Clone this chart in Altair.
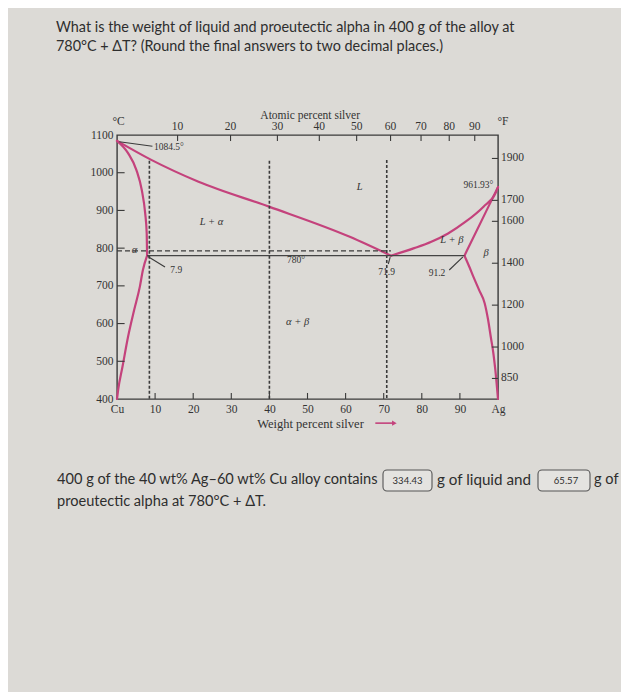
import altair as alt
import pandas as pd

SERIF = "Liberation Serif"
SANS = "Lato"
INK = "#333333"
PINK = "#c4427c"
BG = "#dcdad6"

# ---- phase boundaries (wt% Ag, deg C) ----
liq_cu_wt = [0, 9.0, 21.4, 39.9, 61.1, 71.9]
liq_cu_t = [1084.5, 1034, 976, 910, 830, 780]
liq_ag_wt = [71.9, 78.0, 82.5, 86.9, 91.5, 96.2, 99.3, 100]
liq_ag_t = [780, 800, 817, 839, 870, 910, 945, 961.93]
sol_a_wt = [0, 2.9, 5.1, 6.5, 7.4, 7.8, 7.9]
sol_a_t = [1084.5, 1052, 1007, 954, 892, 839, 780]
solv_a_wt = [0, 0.3, 1.45, 2.9, 4.5, 6.0, 6.8, 7.9]
solv_a_t = [400, 424, 486, 565, 636, 698, 742, 780]
sol_b_wt = [91.2, 95.6, 100]
sol_b_t = [780, 871, 961.93]
solv_b_wt = [91.2, 92.5, 93.5, 95.0, 96.5, 97.4, 98.1, 98.8, 99.3, 100]
solv_b_t = [780, 750, 725, 690, 654, 610, 565, 520, 477, 400]
eutectic_wt = [7.9, 91.2]
eutectic_t = [780, 780]

# dashed construction lines
dash_v_wt = [8.5, 40, 70.8]
dash_v_top = [1032, 1032, 1034]
dash_h_wt = [0, 71.9]
dash_h_t = [793, 793]

# ---- axes ----
temp_c_ticks = [400, 500, 600, 700, 800, 900, 1000, 1100]
wt_ticks = [10, 20, 30, 40, 50, 60, 70, 80, 90]
at_ticks = [10, 20, 30, 40, 50, 60, 70, 80, 90]
at_tick_wt = [15.9, 29.8, 42.1, 53.1, 62.9, 71.8, 79.8, 87.2, 93.9]
temp_f_ticks = [1900, 1700, 1600, 1400, 1200, 1000, 850]
temp_f_as_c = [(f - 32) * 5 / 9 for f in temp_f_ticks]

xscale = alt.Scale(domain=[0, 100], nice=False, zero=False)
yscale = alt.Scale(domain=[400, 1100], nice=False, zero=False)
xaxis = alt.Axis(values=[0] + wt_ticks + [100],
                 labelExpr="datum.value == 0 ? 'Cu' : datum.value == 100 ? 'Ag' : datum.label",
                 title=None, ticks=False, domain=False, grid=False, labelFont=SERIF,
                 labelFontSize=11.5, labelPadding=4, labelColor=INK, labelOverlap=False,
                 labelFlush=False, labelBound=False)
yaxis = alt.Axis(values=temp_c_ticks, format="d", title=None, ticks=False, domain=False, grid=False,
                 labelFont=SERIF, labelFontSize=11.5, labelPadding=4, labelColor=INK,
                 labelOverlap=False, labelFlush=False, labelBound=False)


def X(f="wt"):
    return alt.X(f, type="quantitative", scale=xscale, axis=xaxis)


def Y(f="T"):
    return alt.Y(f, type="quantitative", scale=yscale, axis=yaxis)


curves = {
    "liq_cu": (liq_cu_wt, liq_cu_t),
    "liq_ag": (liq_ag_wt, liq_ag_t),
    "sol_a": (sol_a_wt, sol_a_t),
    "solv_a": (solv_a_wt, solv_a_t),
    "sol_b": (sol_b_wt, sol_b_t),
    "solv_b": (solv_b_wt, solv_b_t),
}
rows = []
for name, (ws, ts) in curves.items():
    for i, (w, t) in enumerate(zip(ws, ts)):
        rows.append({"curve": name, "i": i, "wt": w, "T": t})
lines_df = pd.DataFrame(rows)

phase = alt.Chart(lines_df).mark_line(
    color=PINK, strokeWidth=2.2, interpolate="monotone", strokeCap="round"
).encode(x=X(), y=Y(), detail="curve:N", order="i:Q")

eut_df = pd.DataFrame({"wt": [eutectic_wt[0]], "wt2": [eutectic_wt[1]], "T": [eutectic_t[0]]})
eut = alt.Chart(eut_df).mark_rule(color="#444444", strokeWidth=1.3).encode(
    x=X(), x2="wt2:Q", y=Y())

dv_df = pd.DataFrame({"wt": dash_v_wt, "T": dash_v_top, "T2": [400] * 3})
dash_v = alt.Chart(dv_df).mark_rule(color="#3a3a3a", strokeWidth=1.6, strokeDash=[3, 2]).encode(
    x=X(), y=Y(), y2="T2:Q")
dh_df = pd.DataFrame({"wt": [dash_h_wt[0]], "wt2": [dash_h_wt[1]], "T": [dash_h_t[0]]})
dash_h = alt.Chart(dh_df).mark_rule(color="#3a3a3a", strokeWidth=1.3, strokeDash=[5, 3]).encode(
    x=X(), x2="wt2:Q", y=Y())

# tick marks (inward)
seg = []
for t in temp_c_ticks[1:-1]:
    seg.append({"wt": 0, "wt2": 2.0, "T": t, "T2": t})
for w in wt_ticks:
    seg.append({"wt": w, "wt2": w, "T": 400, "T2": 416})
for w in at_tick_wt:
    seg.append({"wt": w, "wt2": w, "T": 1100, "T2": 1084})
for t in temp_f_as_c:
    seg.append({"wt": 98.4, "wt2": 100, "T": t, "T2": t})
# leader lines
seg.append({"wt": 0.6, "wt2": 9.3, "T": 1082, "T2": 1070})
seg.append({"wt": 8.1, "wt2": 12.6, "T": 778, "T2": 750})
seg.append({"wt": 87.2, "wt2": 90.8, "T": 742, "T2": 777})
seg.append({"wt": 71.7, "wt2": 71.2, "T": 776, "T2": 758})
seg_df = pd.DataFrame(seg)
ticks = alt.Chart(seg_df).mark_rule(color="#3a3a3a", strokeWidth=1.1).encode(
    x=X(), x2="wt2:Q", y=Y(), y2="T2:Q")

# top axis labels (atomic percent)
top_df = pd.DataFrame({"label": [str(a) for a in at_ticks], "wt": at_tick_wt, "T": [1100] * 9})
top_lab = alt.Chart(top_df).mark_text(font=SERIF, fontSize=11.5, color=INK, baseline="bottom", dy=-3).encode(
    x=X(), y=Y(), text="label:N")

# right axis labels (deg F)
f_df = pd.DataFrame({"label": [str(f) for f in temp_f_ticks], "wt": [100] * 7, "T": temp_f_as_c})
f_lab = alt.Chart(f_df).mark_text(font=SERIF, fontSize=11.5, color=INK, align="left", dx=3).encode(
    x=X(), y=Y(), text="label:N")

# unit and axis titles (placed in data space)
units_df = pd.DataFrame({"label": ["°C", "°F", "Atomic percent silver"],
                         "wt": [0.4, 101.3, 50.7],
                         "T": [1135, 1135, 1150]})
units_c = alt.Chart(units_df).mark_text(font=SERIF, fontSize=11.5, color=INK).encode(
    x=X(), y=Y(), text="label:N")
xtitle_df = pd.DataFrame({"label": ["Weight percent silver"], "wt": [36.8], "T": [334]})
units_w = alt.Chart(xtitle_df).mark_text(font=SERIF, fontSize=12.5, color=INK, align="left").encode(
    x=X(), y=Y(), text="label:N")

arrow_df = pd.DataFrame({"wt": [67.8], "wt2": [72.8], "T": [336]})
arrow_line = alt.Chart(arrow_df).mark_rule(color=PINK, strokeWidth=1.6).encode(
    x=X(), x2="wt2:Q", y=Y())
arrow_head = alt.Chart(arrow_df).mark_point(shape="triangle-right", filled=True, color=PINK,
                                            size=28, opacity=1).encode(x=X("wt2"), y=Y())

# region / point labels
plain_df = pd.DataFrame({
    "label": ["1084.5°", "780°", "71.9", "91.2", "7.9"],
    "wt": [9.7, 44.6, 68.6, 81.8, 14.0],
    "T": [1069, 768, 737, 733, 742],
})
plain = alt.Chart(plain_df).mark_text(font=SERIF, fontSize=9.5, color=INK, align="left").encode(
    x=X(), y=Y(), text="label:N")
right_df = pd.DataFrame({"label": ["961.93°"], "wt": [98.8], "T": [968]})
right_lab = alt.Chart(right_df).mark_text(font=SERIF, fontSize=9.5, color=INK, align="right").encode(
    x=X(), y=Y(), text="label:N")
ital_df = pd.DataFrame({
    "label": ["L + α", "L", "L + β", "β", "α + β", "α"],
    "wt": [24.8, 63.7, 87.9, 96.9, 47.4, 4.6],
    "T": [870, 963, 822, 786, 605, 795],
})
ital = alt.Chart(ital_df).mark_text(font=SERIF, fontSize=10.5, fontStyle="italic", color=INK).encode(
    x=X(), y=Y(), text="label:N")

# ---- question text around the figure (page pixels, relative to plot origin) ----
OX, OY = 117, 135


def page_text(txt, px, py, size=14.4, align="left", font=SANS, color="#2e2e2e"):
    return alt.Chart(pd.DataFrame({"t": [txt]})).mark_text(
        font=font, fontSize=size, align=align, baseline="middle", color=color
    ).encode(text="t:N", x=alt.value(px - OX), y=alt.value(py - OY))


def page_box(x1, x2, y1, y2):
    return alt.Chart(pd.DataFrame({"a": [0]})).mark_rect(
        fill="#e4e3e0", stroke="#555555", strokeWidth=1.1, cornerRadius=4
    ).encode(x=alt.value(x1 - OX), x2=alt.value(x2 - OX), y=alt.value(y1 - OY), y2=alt.value(y2 - OY))


q_lines = [
    page_text("What is the weight of liquid and proeutectic alpha in 400 g of the alloy at", 56, 28),
    page_text("780°C + ΔT? (Round the final answers to two decimal places.)", 56, 47),
    page_text("400 g of the 40 wt% Ag–60 wt% Cu alloy contains", 57, 480, size=14.6),
    page_box(383, 432, 470, 491),
    page_text("334.43", 407.5, 480.5, size=9.5, align="center"),
    page_text("g of liquid and", 437, 480, size=15.2),
    page_box(538, 590, 470, 491),
    page_text("65.57", 566, 480.5, size=9.5, align="center"),
    page_text("g of", 594, 480, size=14.6),
    page_text("proeutectic alpha at 780°C + ΔT.", 57, 502, size=14.6),
]

chart = alt.layer(
    phase, dash_v, dash_h, eut, ticks, top_lab, f_lab, units_c, units_w,
    arrow_line, arrow_head, plain, right_lab, ital, *q_lines
).properties(
    width=381, height=264,
    autosize=alt.AutoSizeParams(type="none"),
    padding={"left": 109, "top": 127, "right": 123, "bottom": 293},
).configure(background=BG).configure_view(stroke="#3a3a3a", strokeWidth=1.4)

chart.save("out.html", embed_options={"renderer": "svg", "actions": False})
